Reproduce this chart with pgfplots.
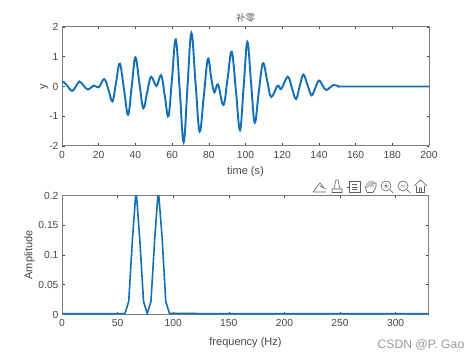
\documentclass[border=0pt]{standalone}
\usepackage{pgfplots}
\pgfplotsset{compat=1.18}
\usepackage{fontspec}
\setmainfont{Liberation Sans}
\newfontfamily\cjk{Noto Sans CJK SC}
\definecolor{ml}{RGB}{20,110,180}
\definecolor{ax}{RGB}{125,125,125}
\definecolor{tx}{RGB}{70,70,70}
\definecolor{ic}{RGB}{95,95,95}
\pgfplotsset{
 base/.style={
  scale only axis, width=367pt, height=119pt, anchor=south west,
  axis line style={ax,line width=1pt},
  tick style={tx,line width=0.5pt}, major tick length=2.5pt,
  tick align=inside, ticklabel style={font=\fontsize{10.3}{11}\selectfont,text=tx},
  /pgf/number format/assume math mode=true,
  label style={font=\fontsize{11}{12}\selectfont,text=tx},
  xtick pos=both, ytick pos=both,
  tick label style={/pgf/number format/fixed},
  xticklabel style={yshift=-1.5pt},
  xlabel style={yshift=-1pt},
 }}
\begin{document}
\begin{tikzpicture}[x=1pt,y=1pt]
\path (0,0) rectangle (474,355);
\begin{axis}[base, at={(62pt,209pt)}, xmin=0,xmax=200,ymin=-2,ymax=2,
  xtick={0,20,...,200}, ytick={-2,-1,0,1,2},
  xlabel={time (s)}, ylabel={y}, ylabel shift=-6pt,
  title={\cjk\fontsize{9.5}{10}\selectfont\textcolor{ic}{补零}}, title style={yshift=-5pt}]
\addplot[ml,line width=1.9pt,smooth,tension=0.62] coordinates {
(0,0.12)(1,0.15)(2.5,0.05)(5.5,-0.15)(7.5,0)(9.5,0.17)(11.5,0.05)(14,-0.1)(17.5,0.03)(20,-0.03)(23,0.25)(25.3,-0.1)(27.5,-0.5)(29.5,0.15)(31.5,0.77)(33.8,-0.1)(36,-0.95)(38,0)(40,0.98)(42.2,0.1)(44.3,-0.73)(46.4,-0.2)(48.5,0.33)(51.5,0.02)(54,0.38)(56,-0.3)(58,-1.0)(60,0.3)(62,1.58)(64.2,-0.15)(66.3,-1.87)(68.4,0)(70.5,1.8)(72.8,0.1)(75,-1.52)(77.3,-0.3)(79.5,0.93)(81.3,0.3)(83,-0.2)(85,0.07)(88,-0.62)(90.3,0.3)(92.5,1.17)(94.8,-0.15)(97,-1.47)(99,0)(101,1.5)(103,0.15)(105,-1.22)(107.2,-0.2)(109.5,0.78)(111.8,0.2)(114,-0.35)(117.5,0.03)(119.5,-0.08)(123,0.33)(125.3,-0.05)(127.5,-0.42)(129.5,0)(131.5,0.4)(133.8,0.05)(136,-0.3)(138,-0.05)(140,0.2)(142,0.04)(144,-0.12)(148,0.05)(151,0)(155,0)(200,0)};
\end{axis}
\begin{axis}[base, at={(62pt,40.5pt)}, xmin=0,xmax=330,ymin=0,ymax=0.2,
  xtick={0,50,...,300}, ytick={0,0.05,0.1,0.15,0.2},
  yticklabels={0,0.05,0.1,0.15,0.2},
  xlabel={frequency (Hz)}, xlabel style={yshift=-2.5pt}, ylabel={Amplitude}, ylabel shift=-3pt]
\addplot[ml,line width=1.6pt] coordinates {
(0,0.0015)(30,0.0015)(53,0.0015)(56.6,0.0015)(60,0.022)(63.3,0.125)(66.6,0.21)(70,0.125)(73.3,0.022)(76.6,0.0015)(80,0.022)(83.3,0.125)(86.6,0.21)(90,0.13)(93.3,0.022)(96.6,0.002)(100,0.0018)(130,0.0015)(200,0.0015)(330,0.0015)};
\end{axis}
% figure toolbar
\begin{scope}[ic,line width=0.6pt,x=1pt,y=1pt,yshift=-21pt]
 \draw (313,184) -- (320,193) -- (324,188) (313,184) -- (326,184) (320,190) -- (326,187);
 \draw (332,183.5) rectangle (342,187) (334,187) -- (336,196) -- (338,196) -- (340,187);
 \draw (349,183.5) rectangle (360,195) (347,189) -- (350,189) (352,189) -- (357,189) (352,186.5) -- (357,186.5) (352,191.5) -- (357,191.5);
 \draw (367,183.5) -- (373,183.5) -- (376,189) -- (376,193) (365,190) -- (367,183.5) (367,193) -- (367,188) (369,195) -- (369,189) (371,195.5) -- (371,189) (373,195) -- (373,189) (376,193)--(373,193);
 \draw (386,190) circle (5) (390,186) -- (393.5,183) (383.5,190) -- (388.5,190) (386,187.5) -- (386,192.5);
 \draw (403,190) circle (5) (407,186) -- (410.5,183) (400.5,190) -- (405.5,190);
 \draw (414,190) -- (420.5,196) -- (427,190) (416.5,190) -- (416.5,183.5) -- (424.5,183.5) -- (424.5,190) (419.5,183.5) -- (419.5,188) -- (421.5,188) -- (421.5,183.5);
\end{scope}
\node[anchor=south east,inner sep=0,text=black!40,font=\fontsize{12.2}{13}\selectfont] at (464.5,5) {CSDN @P. Gao};
\end{tikzpicture}
\end{document}
